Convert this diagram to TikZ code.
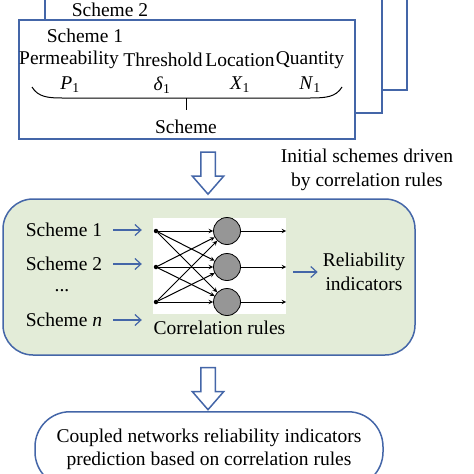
\documentclass[tikz,border=0pt]{standalone}
\usepackage{fontspec}
\setmainfont{Liberation Serif}
\usepackage{tikz}
\usetikzlibrary{shapes.arrows, arrows, arrows.meta}
\usetikzlibrary{positioning}
\definecolor{frameblue}{RGB}{68,102,168}
\definecolor{panelgreen}{RGB}{227,236,216}
\definecolor{cellgray}{RGB}{150,150,150}
\tikzstyle{schemebox} = [rectangle, draw=frameblue, line width=1.5pt, fill=white, inner sep=0pt]
\tikzstyle{txt} = [inner sep=0pt, font=\fontsize{19.5}{23.5}\selectfont, align=center]
\tikzstyle{hollow} = [single arrow, shape border rotate=270, draw=frameblue, line width=1.5pt, fill=white, inner sep=6.5pt, minimum height=42pt, single arrow head extend=8.5pt, single arrow tip angle=82]
\tikzstyle{flow} = [-{Straight Barb[length=6pt, width=11pt]}, draw=frameblue, line width=1.2pt]
\tikzstyle{edge} = [->, >=stealth, line width=1pt]
\newcommand{\symb}[2]{\textit{#1}\textsubscript{#2}}

\begin{document}
\begin{tikzpicture}[x=1pt, y=-1pt]
\clip (0,0) rectangle (474,474);
% stacked schemes
\node (sch3) [schemebox, minimum width=336pt, minimum height=150pt] at (239,15) {};
\node (sch2) [schemebox, minimum width=337pt, minimum height=153pt] at (213.5,36.5) {};
\node (sch1) [schemebox, minimum width=336pt, minimum height=119pt] at (187,79.5) {};
\node (title2) [txt] at (110,10) {Scheme 2};
\node (title1) [txt] at (85,36) {Scheme 1};
\node (perm) [txt] at (69,60) {Permeability};
\node (thr) [txt] at (163,60) {Threshold};
\node (loc) [txt] at (240,60) {Location};
\node (qty) [txt] at (310,60) {Quantity};
\node (vP) [txt] at (70,85) {\symb{P}{1}};
\node (vD) [txt] at (162,85) {\symb{δ}{1}};
\node (vX) [txt] at (240,85) {\symb{X}{1}};
\node (vN) [txt] at (310,85) {\symb{N}{1}};
\coordinate (brL) at (32,87);
\coordinate (brR) at (342,87);
\coordinate (tip) at (186,98);
\node (scheme) [txt] at (186,127) {Scheme};
\draw [line width=1pt] (brL) .. controls (38,97) and (48,98) .. (62,98) -- (310,98) .. controls (326,98) and (336,97) .. (brR);
\draw [line width=1pt] (tip) -- ++(0,12);

\node (down1) [hollow] at (208,169) {};
\node (initial) [txt] at (367,170) {Initial schemes driven\\by correlation rules};

% green panel
\node (panel) [rectangle, rounded corners=30pt, draw=frameblue, line width=1.5pt, fill=panelgreen, minimum width=412pt, minimum height=156pt] at (209,277) {};
\node (in1) [txt] at (64,230) {Scheme 1};
\node (in2) [txt] at (64,264) {Scheme 2};
\node (dots) [txt] at (62,291) {...};
\node (inn) [txt] at (64,320) {Scheme \textit{n}};
\node (net) [rectangle, fill=white, minimum width=133pt, minimum height=96pt] at (219.5,266) {};
\foreach \i in {1,2,n}
  \draw [flow, shorten <=11pt, shorten >=11pt] (in\i.east) -- (in\i.east -| net.west);
\foreach \k/\y in {1/231,2/267,3/302} {
  \node (x\k) [circle, fill=black, inner sep=0pt, minimum size=4.5pt] at (156,\y) {};
  \node (h\k) [circle, draw=black, fill=cellgray, line width=0.8pt, minimum size=27pt] at (227,\y) {};
}
\foreach \a in {1,2,3}
  \foreach \b in {1,2,3}
    \draw [edge] (x\a) -- (h\b);
\foreach \k in {1,2,3}
  \draw [edge] (h\k) -- (h\k -| net.east);
\node (corr) [txt, below=7pt of net] {Correlation rules};
\node (rel) [txt] at (364,272) {Reliability\\indicators};
\draw [flow, shorten <=7pt, shorten >=5pt] (rel.west -| net.east) -- (rel.west);

\node (down2) [hollow] at (208,384.5) {};
\node (pred) [txt, rectangle, rounded corners=35pt, draw=frameblue, line width=1.5pt, minimum width=348pt, inner ysep=17pt, anchor=north] at (209,411) {Coupled networks reliability indicators\\prediction based on correlation rules};
\end{tikzpicture}
\end{document}
